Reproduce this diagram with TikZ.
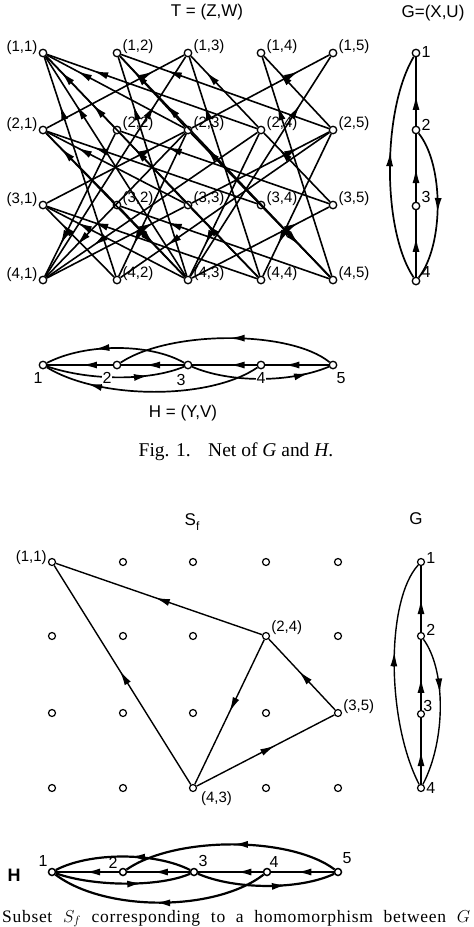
\documentclass[tikz,border=0pt]{standalone}
\usepackage{fontspec}
\setmainfont{Liberation Serif}
\setsansfont{Liberation Sans}
\usetikzlibrary{arrows.meta,decorations.markings}

\begin{document}
\begin{tikzpicture}[x=1pt,y=-1pt,
    vertex/.style={circle,draw,line width=1.3pt,fill=white,inner sep=0pt,minimum size=7.5pt},
    dot/.style={circle,draw,line width=1.2pt,fill=white,inner sep=0pt,minimum size=7pt},
    lab/.style={font=\sffamily\fontsize{15}{15}\selectfont,inner sep=1pt},
    num/.style={font=\sffamily\fontsize{16}{16}\selectfont,inner sep=1pt},
    ttl/.style={font=\sffamily\fontsize{17}{17}\selectfont},
    captxt/.style={font=\rmfamily\fontsize{19.5}{19.5}\selectfont},
    lft/.style={label={[lab,yshift=5pt]left:#1}},
    rgt/.style={label={[lab,yshift=6pt]right:#1}},
    fwd/.style={decoration={markings,mark=at position #1 with {\arrow{Latex[length=15pt,width=7pt]}}},postaction={decorate}},
    tline/.style={line width=1.6pt,fwd=#1}, tline/.default=0.78,
    hline/.style={line width=1.7pt,fwd=#1}, hline/.default=0.5,
    sline/.style={line width=1.4pt,fwd=#1}, sline/.default=0.52,
    bline/.style={line width=2.2pt,fwd=#1}, bline/.default=0.5]
  \useasboundingbox (0,0) rectangle (474,927);

  % ---- Fig. 1: the net T = (Z,W)
  \node[ttl] (ttitle) at (207,12) {T = (Z,W)};
  \node[vertex,lft={(1,1)}] (t11) at (43,53) {};
  \node[vertex,rgt={(1,2)}] (t12) at (117,53) {};
  \node[vertex,rgt={(1,3)}] (t13) at (188,53) {};
  \node[vertex,rgt={(1,4)}] (t14) at (261,53) {};
  \node[vertex,rgt={(1,5)}] (t15) at (333,53) {};
  \node[vertex,lft={(2,1)}] (t21) at (43,130) {};
  \node[vertex,rgt={(2,2)}] (t22) at (117,130) {};
  \node[vertex,rgt={(2,3)}] (t23) at (188,130) {};
  \node[vertex,rgt={(2,4)}] (t24) at (261,130) {};
  \node[vertex,rgt={(2,5)}] (t25) at (333,130) {};
  \node[vertex,lft={(3,1)}] (t31) at (43,205) {};
  \node[vertex,rgt={(3,2)}] (t32) at (117,205) {};
  \node[vertex,rgt={(3,3)}] (t33) at (188,205) {};
  \node[vertex,rgt={(3,4)}] (t34) at (261,205) {};
  \node[vertex,rgt={(3,5)}] (t35) at (333,205) {};
  \node[vertex,lft={(4,1)}] (t41) at (43,280) {};
  \node[vertex,rgt={(4,2)}] (t42) at (117,280) {};
  \node[vertex,rgt={(4,3)}] (t43) at (188,280) {};
  \node[vertex,rgt={(4,4)}] (t44) at (261,280) {};
  \node[vertex,rgt={(4,5)}] (t45) at (333,280) {};

  % arcs over (2,1) of G
  \draw[tline] (t22) -- (t11);
  \draw[tline] (t23) -- (t12);
  \draw[tline] (t24) -- (t13);
  \draw[tline] (t25) -- (t14);
  \draw[tline] (t23) -- (t11);
  \draw[tline] (t23) -- (t15);
  \draw[tline] (t25) -- (t12);
  \draw[tline] (t21) -- (t13);
  \draw[tline] (t24) -- (t11);
  % arcs over (3,2)
  \draw[tline] (t32) -- (t21);
  \draw[tline] (t33) -- (t22);
  \draw[tline] (t34) -- (t23);
  \draw[tline] (t35) -- (t24);
  \draw[tline] (t33) -- (t21);
  \draw[tline] (t33) -- (t25);
  \draw[tline] (t35) -- (t22);
  \draw[tline] (t31) -- (t23);
  \draw[tline] (t34) -- (t21);
  % arcs over (4,3)
  \draw[tline] (t42) -- (t31);
  \draw[tline] (t43) -- (t32);
  \draw[tline] (t44) -- (t33);
  \draw[tline] (t45) -- (t34);
  \draw[tline] (t43) -- (t31);
  \draw[tline] (t43) -- (t35);
  \draw[tline] (t45) -- (t32);
  \draw[tline] (t41) -- (t33);
  \draw[tline] (t44) -- (t31);
  % arcs over (4,1)
  \draw[tline] (t42) -- (t11);
  \draw[tline] (t43) -- (t12);
  \draw[tline] (t44) -- (t13);
  \draw[tline] (t45) -- (t14);
  \draw[tline] (t43) -- (t11);
  \draw[tline] (t43) -- (t15);
  \draw[tline] (t45) -- (t12);
  \draw[tline] (t41) -- (t13);
  \draw[tline] (t44) -- (t11);
  % arcs over (2,4)
  \draw[tline] (t22) -- (t41);
  \draw[tline] (t23) -- (t42);
  \draw[tline] (t24) -- (t43);
  \draw[tline] (t25) -- (t44);
  \draw[tline] (t23) -- (t41);
  \draw[tline] (t23) -- (t45);
  \draw[tline] (t25) -- (t42);
  \draw[tline] (t21) -- (t43);
  \draw[tline] (t24) -- (t41);

  % G = (X,U)
  \node[ttl] (gtitle) at (433,13) {G=(X,U)};
  \node[vertex,label={[num,yshift=1pt]right:1}] (ga1) at (416,53) {};
  \node[vertex,label={[num,yshift=5pt]right:2}] (ga2) at (416,130) {};
  \node[vertex,label={[num,yshift=9pt]right:3}] (ga3) at (416,206) {};
  \node[vertex,label={[num,yshift=9pt]right:4}] (ga4) at (416,281) {};
  \draw[hline=0.45] (ga2) -- (ga1);
  \draw[hline=0.5] (ga3) -- (ga2);
  \draw[hline=0.6] (ga4) -- (ga3);
  \draw[hline=0.57] (ga4) .. controls (382,230) and (382,110) .. (ga1);
  \draw[hline=0.55] (ga2) .. controls (444,165) and (444,245) .. (ga4);

  % H = (Y,V)
  \node[vertex] (ha1) at (43,365) {};
  \node[vertex] (ha2) at (117,365) {};
  \node[vertex] (ha3) at (188,365) {};
  \node[vertex] (ha4) at (261,365) {};
  \node[vertex] (ha5) at (333,365) {};
  \draw[hline=0.47] (ha2) -- (ha1);
  \draw[hline=0.62] (ha3) -- (ha2);
  \draw[hline=0.42] (ha4) -- (ha3);
  \draw[hline=0.7] (ha5) -- (ha4);
  \draw[hline=0.65] (ha3) .. controls (150,343) and (85,343) .. (ha1);
  \draw[hline=0.85] (ha3) .. controls (230,383) and (290,383) .. (ha5);
  \draw[hline=0.48] (ha5) .. controls (290,330) and (170,330) .. (ha2);
  \draw[hline=0.74] (ha1) .. controls (90,381) and (150,381) .. (ha3);
  \draw[hline=0.8] (ha4) .. controls (210,400) and (100,400) .. (ha1);
  \node[num] (ya1) at (38,378) {1};
  \node[num,fill=white] (ya2) at (107,378) {2};
  \node[num] (ya3) at (181,380) {3};
  \node[num,fill=white] (ya4) at (261,378) {4};
  \node[num] (ya5) at (341,378) {5};
  \node[ttl] (htitle) at (183,413) {H = (Y,V)};

  \node[captxt] (fig1) at (236,452) {Fig. 1.\hspace{0.9em}Net of \textit{G} and \textit{H}.};

  % ---- Fig. 2: the subset S_f
  \node[ttl] (stitle) at (192,522) {S\raisebox{-5pt}{\fontsize{12}{12}\selectfont f}};
  \node[dot,label={[lab,yshift=4pt]left:(1,1)}] (s11) at (52,562) {};
  \node[dot] (s12) at (123,562) {};
  \node[dot] (s13) at (193,562) {};
  \node[dot] (s14) at (266,562) {};
  \node[dot] (s15) at (338,562) {};
  \node[dot] (s21) at (52,636) {};
  \node[dot] (s22) at (123,636) {};
  \node[dot] (s23) at (193,636) {};
  \node[dot,label={[lab,yshift=8pt]right:(2,4)}] (s24) at (266,636) {};
  \node[dot] (s25) at (338,636) {};
  \node[dot] (s31) at (52,713) {};
  \node[dot] (s32) at (123,713) {};
  \node[dot] (s33) at (193,713) {};
  \node[dot] (s34) at (266,713) {};
  \node[dot,label={[lab,yshift=6pt]right:(3,5)}] (s35) at (338,713) {};
  \node[dot] (s41) at (52,788) {};
  \node[dot] (s42) at (123,788) {};
  \node[dot,label={[lab,xshift=4pt]below right:(4,3)}] (s43) at (193,788) {};
  \node[dot] (s44) at (266,788) {};
  \node[dot] (s45) at (338,788) {};
  \draw[sline] (s24) -- (s11);
  \draw[sline] (s43) -- (s11);
  \draw[sline=0.5] (s24) -- (s43);
  \draw[sline=0.57] (s43) -- (s35);
  \draw[sline=0.55] (s35) -- (s24);

  % G again
  \node[ttl] (gbtitle) at (416,519) {G};
  \node[dot,label={[num,yshift=4pt]right:1}] (gb1) at (421,562) {};
  \node[dot,label={[num,yshift=6pt]right:2}] (gb2) at (421,636) {};
  \node[dot,label={[num,yshift=8pt,xshift=-3pt]right:3}] (gb3) at (421,714) {};
  \node[dot,label={[num]right:4}] (gb4) at (421,788) {};
  \draw[sline=0.5] (gb2) -- (gb1);
  \draw[sline=0.46] (gb3) -- (gb2);
  \draw[sline=0.5] (gb4) -- (gb3);
  \draw[sline=0.6] (gb4) .. controls (386,720) and (386,600) .. (gb1);
  \draw[sline=0.38] (gb2) .. controls (446,670) and (446,740) .. (gb4);

  % H again
  \node[font=\sffamily\bfseries\fontsize{18}{18}\selectfont] (hbtitle) at (14,875) {H};
  \node[dot,line width=1.5pt] (hb1) at (52,872) {};
  \node[dot,line width=1.5pt] (hb2) at (123,872) {};
  \node[dot,line width=1.5pt] (hb3) at (194,872) {};
  \node[dot,line width=1.5pt] (hb4) at (267,872) {};
  \node[dot,line width=1.5pt] (hb5) at (338,872) {};
  \draw[bline=0.54] (hb2) -- (hb1);
  \draw[bline=0.59] (hb3) -- (hb2);
  \draw[bline=0.41] (hb4) -- (hb3);
  \draw[bline=0.6] (hb5) -- (hb4);
  \draw[bline=0.45] (hb3) .. controls (155,852) and (90,852) .. (hb1);
  \draw[bline=0.65] (hb3) .. controls (235,890) and (300,890) .. (hb5);
  \draw[bline=0.49] (hb5) .. controls (290,836) and (175,836) .. (hb2);
  \draw[bline=0.64] (hb1) .. controls (95,887) and (160,887) .. (hb3);
  \draw[bline=0.52] (hb4) .. controls (215,912) and (105,912) .. (hb1);
  \node[num] (yb1) at (43,861) {1};
  \node[num] (yb2) at (113,863) {2};
  \node[num] (yb3) at (203,861) {3};
  \node[num] (yb4) at (274,862) {4};
  \node[num] (yb5) at (347,858) {5};

  \node[font=\rmfamily\fontsize{17.5}{17.5}\selectfont\addfontfeatures{LetterSpace=4},anchor=base west,inner sep=0pt] (fig2) at (2,922)
    {\makebox[468pt][s]{Subset $S_f$ corresponding to a homomorphism between $G$}};
\end{tikzpicture}
\end{document}
